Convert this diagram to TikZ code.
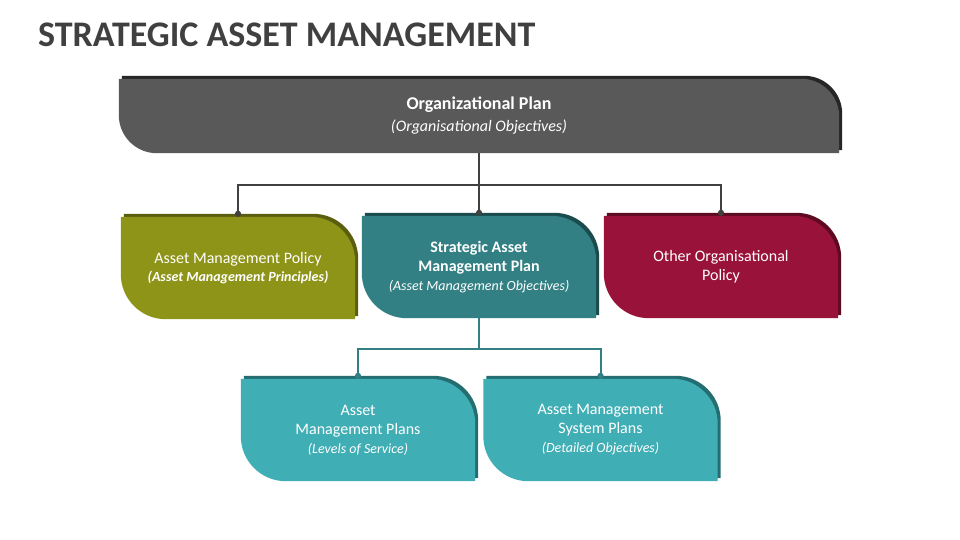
\documentclass[tikz,border=0pt]{standalone}
\usepackage{fontspec}
\setmainfont{Carlito}
\usetikzlibrary{arrows.meta, backgrounds, positioning}
\definecolor{titlegray}{HTML}{404040}
\definecolor{plangray}{HTML}{595959}
\definecolor{planedge}{HTML}{262626}
\definecolor{olive}{HTML}{8E9418}
\definecolor{oliveedge}{HTML}{5A5E0E}
\definecolor{tealdark}{HTML}{328083}
\definecolor{tealdarkedge}{HTML}{1A4B4D}
\definecolor{crimson}{HTML}{99123A}
\definecolor{crimsonedge}{HTML}{5E0A22}
\definecolor{teallight}{HTML}{40AEB5}
\definecolor{teallightedge}{HTML}{246E72}
\definecolor{linkgray}{HTML}{404040}

% smaller italic line under a box title
\newcommand\subline{\fontsize{14}{19}\selectfont\itshape}

% leaf shaped box behind a node: #1 node, #2 radius, #3 fill, #4 edge colour
\newcommand\leafshape[4]{%
  \begin{scope}[on background layer]
    \fill[#4, transform canvas={shift={(3pt,3pt)}}] (#1.north west) -- ([xshift=-#2]#1.north east)
      arc[start angle=90, end angle=0, radius=#2] -- (#1.south east)
      -- ([xshift=#2]#1.south west) arc[start angle=270, end angle=180, radius=#2] -- cycle;
    \fill[#3] (#1.north west) -- ([xshift=-#2]#1.north east)
      arc[start angle=90, end angle=0, radius=#2] -- (#1.south east)
      -- ([xshift=#2]#1.south west) arc[start angle=270, end angle=180, radius=#2] -- cycle;
  \end{scope}}

\begin{document}
\begin{tikzpicture}[x=1pt, y=-1pt,
    leaf/.style={minimum width=234pt, minimum height=102pt, inner sep=0pt, align=center,
      text=white, font=\fontsize{16}{19}\selectfont},
    link/.style={line width=2pt, linkgray, -{Circle[length=6pt]}},
    tealink/.style={link, tealdark}
  ]
  \useasboundingbox (0,0) rectangle (960,540);

  % --- title ---
  \node[anchor=base west, inner sep=0pt, text=titlegray, font=\fontsize{36}{40}\selectfont\bfseries]
    (title) at (38,47) {STRATEGIC ASSET MANAGEMENT};

  % --- top level ---
  \node[leaf, minimum width=720pt, minimum height=74pt, font=\fontsize{18}{22}\selectfont] (plan) at (479,116)
    {\textbf{Organizational Plan}\\{\fontsize{16}{22}\selectfont\itshape (Organisational Objectives)}};
  \leafshape{plan}{38pt}{plangray}{planedge}

  % --- second level ---
  \node[leaf] (policy) at (238,268)
    {Asset Management Policy\\[-1pt]{\subline\bfseries (Asset Management Principles)}};
  \leafshape{policy}{45pt}{olive}{oliveedge}

  \node[leaf, font=\fontsize{16}{19}\selectfont\bfseries] (samp) at (479,267)
    {Strategic Asset\\Management Plan\\{\subline\mdseries (Asset Management Objectives)}};
  \leafshape{samp}{45pt}{tealdark}{tealdarkedge}

  \node[leaf] (other) at (721,267) {Other Organisational\\Policy};
  \leafshape{other}{45pt}{crimson}{crimsonedge}

  % --- third level ---
  \node[leaf] (amp) at (358,430)
    {Asset\\Management Plans\\{\subline (Levels of Service)}};
  \leafshape{amp}{45pt}{teallight}{teallightedge}

  \node[leaf] (amsp) at (600.5,430)
    {Asset Management\\System Plans\\{\subline (Detailed Objectives)}};
  \leafshape{amsp}{45pt}{teallight}{teallightedge}

  % --- connectors ---
  \coordinate (hub) at (479,185);
  \coordinate (subhub) at (479,349);
  \draw[line width=2pt, linkgray] (plan.south) -- (hub);
  \draw[link] (hub) -- (samp.north);
  \draw[link] (hub) -| (policy.north);
  \draw[link] (hub) -| (other.north);
  \draw[line width=2pt, tealdark] (samp.south) -- (subhub);
  \draw[tealink] (subhub) -| (amp.north);
  \draw[tealink] (subhub) -| (amsp.north);
\end{tikzpicture}
\end{document}
